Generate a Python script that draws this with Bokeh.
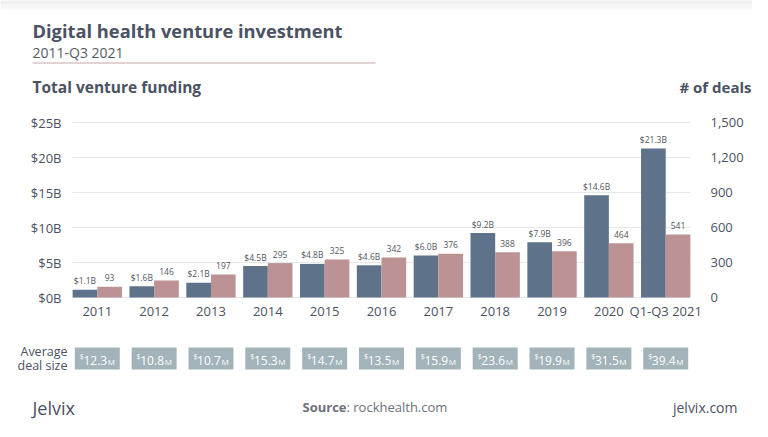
from bokeh.plotting import figure
from bokeh.models import (Range1d, LinearAxis, FixedTicker, PrintfTickFormatter,
                          NumeralTickFormatter, ColumnDataSource)
from bokeh.core.properties import value
from bokeh.embed import file_html
from bokeh.resources import INLINE

# ---------------- data ----------------
categories = ["2011", "2012", "2013", "2014", "2015", "2016",
              "2017", "2018", "2019", "2020", "Q1-Q3 2021"]
funding_b = [1.1, 1.6, 2.1, 4.5, 4.8, 4.6, 6.0, 9.2, 7.9, 14.6, 21.3]
deals = [93, 146, 197, 295, 325, 342, 376, 388, 396, 464, 541]
deal_size_m = [12.3, 10.8, 10.7, 15.3, 14.7, 13.5, 15.9, 23.6, 19.9, 31.5, 39.4]
left_ticks = [0, 5, 10, 15, 20, 25]
right_ticks = [0, 300, 600, 900, 1200, 1500]

# ---------------- style ----------------
FONT = "Open Sans"
TXT = "#4a5263"
BLUE = "#5e7389"
PINK = "#bc9294"
BOX = "#a2b3b9"
GRID = "#e3e8e8"

W, H = 752, 421
# plot-area geometry in page pixels
PL, PR, PBOT = 72, 690, 297
PX_PER_B = 7.0
X0, X1 = -0.436, len(categories) - 1 + 0.436
PPU = (PR - PL) / (X1 - X0)
DEALS_PER_B = 1500 / 25
idx = list(range(len(categories)))


def X(px):
    return X0 + (px - PL) / PPU


def Y(py):
    return (PBOT - py) / PX_PER_B


p = figure(width=W, height=H, output_backend="svg", toolbar_location=None,
           x_range=Range1d(X(0), X(W)), y_range=Range1d(Y(H), Y(0)),
           x_axis_location=None, y_axis_location=None, min_border=0)
p.extra_y_ranges = {"deals": Range1d(Y(H) * DEALS_PER_B, Y(0) * DEALS_PER_B)}
p.outline_line_color = None
p.border_fill_color = "white"
p.background_fill_color = "white"
p.xgrid.visible = False
p.ygrid.visible = False


def style_axis(ax, standoff):
    ax.axis_line_color = None
    ax.major_tick_line_color = None
    ax.minor_tick_line_color = None
    ax.major_label_standoff = standoff
    ax.major_label_text_font = FONT
    ax.major_label_text_font_size = "13px"
    ax.major_label_text_color = TXT


lax = LinearAxis(fixed_location=X(PL), ticker=FixedTicker(ticks=left_ticks),
                 formatter=PrintfTickFormatter(format="$%dB"))
style_axis(lax, 5)
p.add_layout(lax, "left")
rax = LinearAxis(fixed_location=X(PR), y_range_name="deals",
                 ticker=FixedTicker(ticks=right_ticks),
                 formatter=NumeralTickFormatter(format="0,0"))
style_axis(rax, 14)
p.add_layout(rax, "right")
bax = LinearAxis(fixed_location=0, ticker=FixedTicker(ticks=idx),
                 major_label_overrides={i: c for i, c in zip(idx, categories)})
style_axis(bax, -2)
p.add_layout(bax, "below")

# grid lines at the left-axis ticks, across the plot area only
p.segment(x0=[X(PL)] * len(left_ticks), x1=[X(PR)] * len(left_ticks),
          y0=left_ticks, y1=left_ticks, line_color=GRID, line_width=1)

# top shade
p.quad(left=[X(0)] * 2, right=[X(W)] * 2, top=[Y(0), Y(4)], bottom=[Y(4), Y(9)],
       fill_color=["#efefef", "#f7f7f7"], line_color=None)

BW = 0.434
src = ColumnDataSource(dict(
    xb=[i - BW / 2 for i in idx], xp=[i + BW / 2 for i in idx],
    funding=funding_b, deals=deals,
    flab=["$%.1fB" % v for v in funding_b],
    dlab=[str(v) for v in deals],
))
p.vbar(x="xb", top="funding", bottom=0, width=BW, source=src,
       fill_color=BLUE, line_color=None)
p.vbar(x="xp", top="deals", bottom=0, width=BW, source=src,
       fill_color=PINK, line_color=None, y_range_name="deals")
p.text(x="xb", y="funding", text="flab", source=src, y_offset=-9,
       text_align="center", text_baseline="middle",
       text_font=value(FONT), text_font_size="8.5px", text_color="#50565f")
p.text(x="xp", y="deals", text="dlab", source=src, y_offset=-9,
       text_align="center", text_baseline="middle", y_range_name="deals",
       text_font=value(FONT), text_font_size="8.5px", text_color="#50565f")

# average deal size boxes
bsrc = ColumnDataSource(dict(x=idx, y=[Y(358)] * len(idx),
                             size=["%.1f" % v for v in deal_size_m]))
p.rect(x="x", y="y", width=45 / PPU, height=22 / PX_PER_B, source=bsrc,
       fill_color=BOX, line_color=None)
p.text(x="x", y="y", text="size", source=bsrc, x_offset=-2, y_offset=2,
       text_align="center", text_baseline="middle",
       text_font=value(FONT), text_font_size="12px", text_color="white")
p.text(x="x", y="y", text=value("$"), source=bsrc, x_offset=-13.5, y_offset=-2,
       text_align="right", text_baseline="middle",
       text_font=value(FONT), text_font_size="7px", text_color="white")
p.text(x="x", y="y", text=value("M"), source=bsrc, x_offset=10.5, y_offset=3,
       text_align="left", text_baseline="middle",
       text_font=value(FONT), text_font_size="8px", text_color="white")


def txt(px, py, text, size, style="normal", color=TXT, align="left"):
    p.text(x=[X(px)], y=[Y(py)], text=[text], text_font=value(FONT),
           text_font_size=size, text_font_style=style, text_color=color,
           text_align=align, text_baseline="middle")


txt(32, 30, "Digital health venture investment", "18.3px", "bold")
txt(32, 52, "2011-Q3 2021", "14px", color="#555a63")
p.segment(x0=[X(32)], y0=[Y(62.5)], x1=[X(375)], y1=[Y(62.5)],
          line_color="#c9a3a4", line_width=1)
txt(32, 86, "Total venture funding", "15.5px", "bold")
txt(751, 86, "# of deals", "15px", "bold", align="right")
txt(67, 351, "Average", "12.5px", align="right")
txt(67, 365, "deal size", "12.5px", align="right")
txt(32, 407, "Jelvix", "18px")
txt(346, 406, "Source", "13px", "bold", color="#6d7178", align="right")
txt(346, 406, ": rockhealth.com", "13px", color="#6d7178")
txt(737, 407, "jelvix.com", "14px", align="right")

open("out.html", "w").write(file_html(p, INLINE))
